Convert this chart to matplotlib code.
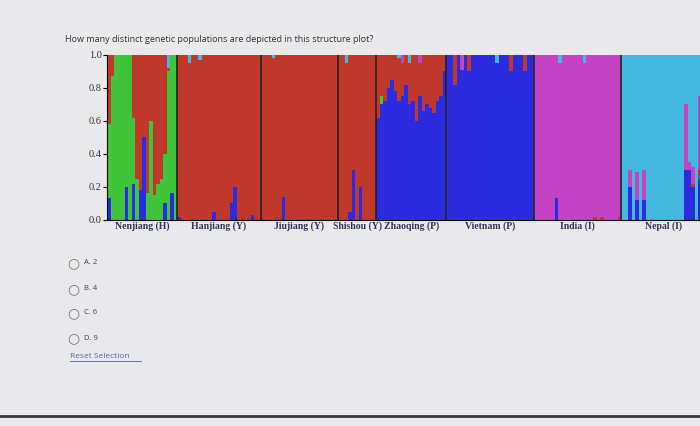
import numpy as np
import matplotlib
matplotlib.use("Agg")
import matplotlib.pyplot as plt

pops = ["Nenjiang (H)", "Hanjiang (Y)", "Jiujiang (Y)", "Shishou (Y)", "Zhaoqing (P)", "Vietnam (P)", "India (I)", "Nepal (I)"]

# per-population membership values (blue, green, red, magenta, cyan)
blue = [
 [.13,0,0,0,0,.2,0,.22,0,.18,.5,0,0,0,0,0,.1,0,.16,0],
 [.02,0,0,0,0,0,0,0,0,0,.05,0,0,0,0,.1,.2,0,0,0,0,.03,0,0],
 [0,0,0,0,0,0,.14,0,0,0,0,0,0,0,0,0,0,0,0,0,0,0],
 [0,0,0,.05,.3,0,.2,0,0,0,0],
 [.62,.7,.72,.8,.85,.78,.72,.75,.82,.7,.72,.6,.75,.66,.7,.68,.65,.72,.75,.9],
 [1,1,.82,1,1,1,.9,1,1,1,1,1,1,1,.95,1,1,1,.9,1,1,1,.9,1,1],
 [0,0,0,0,0,0,.13,0,0,0,0,0,0,0,0,0,0,0,0,0,0,0,0,0,0],
 [0,0,.2,0,.12,0,.12,0,0,0,0,0,0,0,0,0,0,0,.3,.3,.2,0,.25,.25],
]
green = [
 [.45,.87,1,1,1,.8,1,.4,.25,0,0,.16,.6,.15,.22,.25,.3,.9,.84,1],
 [0]*24,
 [0]*22,
 [0]*11,
 [0,.05,0,0,0,0,0,0,0,0,0,0,0,0,0,0,0,0,0,0],
 [0]*25,
 [0]*25,
 [0]*24,
]
red = [
 [.42,.13,0,0,0,0,0,.38,.75,.82,.5,.84,.4,.85,.78,.75,.6,.02,0,0],
 [.98,1,1,.95,1,1,.97,1,1,1,.95,1,1,1,1,.9,.8,1,1,1,1,.97,1,1],
 [1,1,1,.98,1,1,.86,1,1,1,1,1,1,1,1,1,1,1,1,1,1,1],
 [1,1,.95,.95,.7,1,.8,1,1,1,1],
 [.38,.25,.28,.2,.15,.22,.26,.2,.18,.25,.28,.4,.2,.34,.3,.32,.35,.28,.25,.1],
 [0,0,.18,0,0,0,.1,0,0,0,0,0,0,0,0,0,0,0,.1,0,0,0,.1,0,0],
 [0,0,0,0,0,0,0,0,0,0,0,0,0,0,0,0,0,.02,0,.02,0,0,0,0,.02],
 [0,0,0,0,0,0,0,0,0,0,0,0,0,0,0,0,0,0,0,0,.02,0,.05,0],
]
magenta = [
 [0]*20,
 [0]*24,
 [0]*22,
 [0]*11,
 [0,0,0,0,0,0,0,.05,0,0,0,0,.05,0,0,0,0,0,0,0],
 [0,0,0,0,.1,0,0,0,0,0,0,0,0,0,0,0,0,0,0,0,0,0,0,0,0],
 [1,1,1,1,1,1,.87,.95,1,1,1,1,1,1,.95,1,1,.98,1,.98,1,1,1,1,.98],
 [0,0,.1,0,.17,0,.18,0,0,0,0,0,0,0,0,0,0,0,.4,.05,.1,0,.45,.1],
]
cyan = [
 [0,0,0,0,0,0,0,0,0,0,0,0,0,0,0,0,0,.08,0,0],
 [0,0,0,.05,0,0,.03,0,0,0,0,0,0,0,0,0,0,0,0,0,0,0,0,0],
 [0,0,0,.02,0,0,0,0,0,0,0,0,0,0,0,0,0,0,0,0,0,0],
 [0,0,.05,0,0,0,0,0,0,0,0,0],
 [0,0,0,0,0,0,.02,0,0,.05,0,0,0,0,0,0,0,0,0,0],
 [0,0,0,0,0,0,0,0,0,0,0,0,0,0,.05,0,0,0,0,0,0,0,0,0,0],
 [0,0,0,0,0,0,0,.05,0,0,0,0,0,0,.05,0,0,0,0,0,0,0,0,0,0],
 [1,1,.7,1,.71,1,.7,1,1,1,1,1,1,1,1,1,1,1,.3,.65,.68,1,.25,.65],
]
cyan[3] = cyan[3][:11]

colors = ["#2b2be0", "#3fc43a", "#c0382c", "#c443c4", "#45b8e2"]
tick_vals = [0.0, 0.2, 0.4, 0.6, 0.8, 1.0]

fig = plt.figure(figsize=(7, 4.26), dpi=100)
fig.patch.set_facecolor("#e9e9ec")
ax = fig.add_axes([0.153, 0.484, 0.847, 0.387])
ax.set_facecolor("#e9e9ec")

x0 = 0
bounds, centers = [], []
for p in range(len(pops)):
    comps = np.array([blue[p], green[p], red[p], magenta[p], cyan[p]], dtype=float)
    comps = comps / comps.sum(axis=0)
    n = comps.shape[1]
    xs = x0 + np.arange(n)
    bottom = np.zeros(n)
    for k in range(5):
        ax.bar(xs, comps[k], bottom=bottom, width=1.0, align="edge", color=colors[k], linewidth=0)
        bottom += comps[k]
    centers.append(x0 + n / 2)
    x0 += n
    bounds.append(x0)
for b in bounds[:-1]:
    ax.axvline(b, color="#222222", lw=1.2)

ax.set_xlim(0, x0 - 1.5)
ax.set_ylim(0, 1)
ax.set_yticks(tick_vals)
ax.set_yticklabels([f"{v:.1f}" for v in tick_vals], fontsize=7.5, family="Liberation Serif", color="#333333")
ax.set_xticks(centers)
ax.set_xticklabels(pops, fontsize=7, family="Liberation Serif", fontweight="bold", color="#333355")
ax.tick_params(axis="x", length=0, pad=1)
ax.tick_params(axis="y", length=3, pad=1)
for s in ["top", "right"]:
    ax.spines[s].set_visible(False)

fig.text(65/700, 1-40/426, "How many distinct genetic populations are depicted in this structure plot?",
         fontsize=6.5, color="#333333", va="center", family="Open Sans")
opts = ["A. 2", "B. 4", "C. 6", "D. 9"]
ys = [263, 289, 313, 338]
for o, y in zip(opts, ys):
    fig.text(67/700, 1-y/426, "○", fontsize=10, color="#777777", va="center", family="DejaVu Sans")
    fig.text(84/700, 1-y/426, o, fontsize=5.5, color="#444444", va="center", family="Open Sans")
fig.text(70/700, 1-357/426, "Reset Selection", fontsize=6, color="#4a6aa8", va="center", family="Open Sans")
fig.add_artist(plt.Line2D([70/700, 141/700], [1-361/426, 1-361/426], color="#4a6aa8", lw=0.6))
fig.add_artist(plt.Line2D([0, 1], [1-416/426, 1-416/426], color="#3a3a3a", lw=2))

fig.savefig("out.png", dpi=100, facecolor=fig.get_facecolor())
